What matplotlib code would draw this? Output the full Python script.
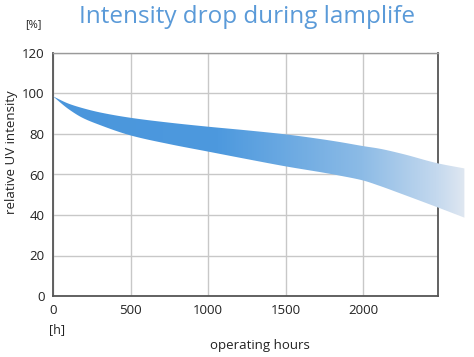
import numpy as np
import matplotlib
matplotlib.use("Agg")
import matplotlib.pyplot as plt
from matplotlib.patches import Polygon
from matplotlib.colors import LinearSegmentedColormap

hours = [0, 100, 190, 300, 500, 750, 1000, 1250, 1500, 1750, 1850, 2000, 2100, 2250, 2480, 2650]
upper = [98.6, 95.0, 92.8, 90.7, 88.0, 85.6, 83.6, 81.8, 79.8, 77.2, 76.0, 74.0, 72.8, 70.2, 65.5, 63.0]
lower = [98.6, 92.3, 88.0, 84.5, 79.3, 75.0, 71.3, 67.6, 64.0, 60.8, 59.4, 57.0, 54.5, 50.3, 43.7, 38.7]
xticks = [0, 500, 1000, 1500, 2000]
yticks = [0, 20, 40, 60, 80, 100, 120]


def pchip(x, y, xn):
    x = np.asarray(x, float); y = np.asarray(y, float)
    h = np.diff(x); d = np.diff(y) / h
    m = np.zeros_like(y)
    for k in range(1, len(x) - 1):
        if d[k-1] * d[k] > 0:
            w1 = 2*h[k] + h[k-1]; w2 = h[k] + 2*h[k-1]
            m[k] = (w1 + w2) / (w1/d[k-1] + w2/d[k])
    m[0] = d[0]; m[-1] = d[-1]
    idx = np.clip(np.searchsorted(x, xn) - 1, 0, len(x) - 2)
    t = (xn - x[idx]) / h[idx]
    h00 = 2*t**3 - 3*t**2 + 1; h10 = t**3 - 2*t**2 + t
    h01 = -2*t**3 + 3*t**2; h11 = t**3 - t**2
    return h00*y[idx] + h10*h[idx]*m[idx] + h01*y[idx+1] + h11*h[idx]*m[idx+1]


plt.rcParams['font.family'] = ['Open Sans', 'DejaVu Sans']
fig = plt.figure(figsize=(4.74, 3.57), dpi=100)
L, R, T, B = 53, 438, 53, 296
ax = fig.add_axes([L/474, 1-B/357, (R-L)/474, (B-T)/357])
XMAX = 2480
ax.set_xlim(0, XMAX)
ax.set_ylim(0, 120)
ax.set_xticks(xticks)
ax.set_yticks(yticks)
ax.grid(True, color='#c8c8c8', lw=1.0)
ax.set_axisbelow(True)
ax.tick_params(length=0, labelsize=9.5, colors='#222222', pad=6)
ax.spines['top'].set_color('#9a9a9a')
ax.spines['top'].set_linewidth(1.0)
for s in ['left', 'bottom', 'right']:
    ax.spines[s].set_color('#555555')
    ax.spines[s].set_linewidth(1.3)

# overlay axes with identical data scale, extending to the figure's right edge
ax2 = fig.add_axes([L/474, 1-B/357, (474-L)/474, (B-T)/357])
ax2.set_xlim(0, XMAX * (474-L)/(R-L))
ax2.set_ylim(0, 120)
ax2.axis('off')
ax2.patch.set_alpha(0)

xs = np.linspace(hours[0], hours[-1], 500)
up_s = pchip(hours, upper, xs)
lo_s = pchip(hours, lower, xs)
verts = list(zip(xs, up_s)) + list(zip(xs[::-1], lo_s[::-1]))
poly = Polygon(verts, closed=True, facecolor='none', edgecolor='none', transform=ax2.transData)
ax2.add_patch(poly)

cmap = LinearSegmentedColormap.from_list('band', [(0.0, '#4a96dc'), (0.40, '#4d99de'),
                                                  (0.75, '#8cbbe6'), (0.93, '#c3d8ee'), (1.0, '#dfe7f1')])
grad = np.linspace(0, 1, 512).reshape(1, -1)
im = ax2.imshow(grad, cmap=cmap, aspect='auto', extent=[0, hours[-1], 30, 100],
                origin='lower', zorder=3, interpolation='bilinear')
im.set_clip_path(poly)
ax2.set_xlim(0, XMAX * (474-L)/(R-L))
ax2.set_ylim(0, 120)
ax2.set_aspect('auto')

fig.text(247/474, 1-17/357, 'Intensity drop during lamplife', ha='center', va='center',
         fontsize=17.5, color='#5a9ad8')
fig.text(33/474, 1-25/357, '[%]', ha='center', va='center', fontsize=8, color='#222222')
fig.text(57/474, 1-330/357, '[h]', ha='center', va='center', fontsize=9, color='#222222')
fig.text(260/474, 1-346/357, 'operating hours', ha='center', va='center', fontsize=9.5, color='#222222')
fig.text(12/474, 1-152/357, 'relative UV intensity', ha='center', va='center', rotation=90,
         fontsize=9.5, color='#222222')

fig.savefig('out.png', dpi=100)
